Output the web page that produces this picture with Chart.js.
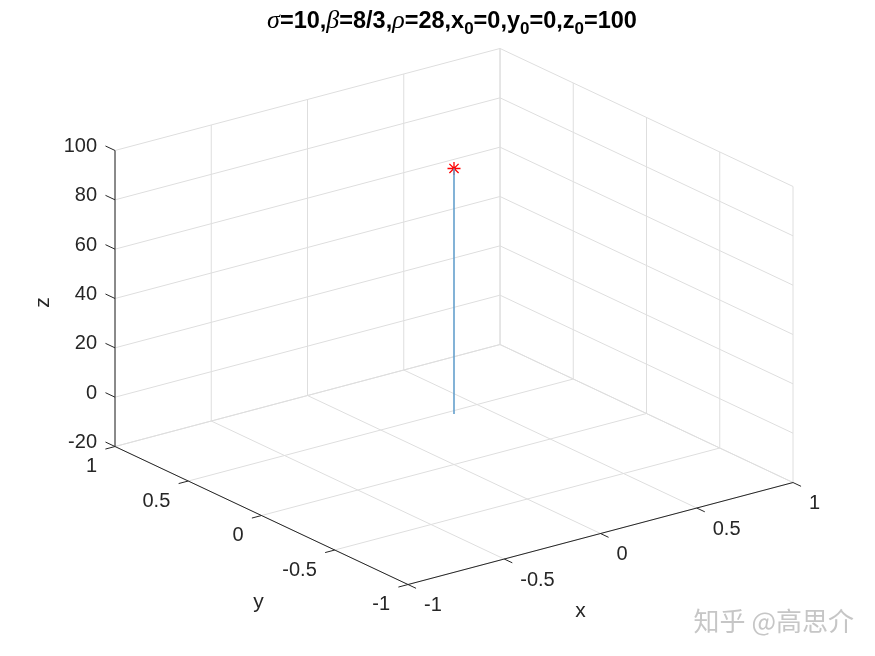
<!DOCTYPE html>
<html>
<head>
<meta charset="utf-8">
<script src="https://cdn.jsdelivr.net/npm/chart.js@4/dist/chart.umd.min.js"></script>
<style>
  html, body { margin: 0; padding: 0; background: #fff; }
  #wrap { width: 875px; height: 656px; }
</style>
</head>
<body>
<div id="wrap"><canvas id="lorenz" width="875" height="656"></canvas></div>
<script>
// axis ticks
const xTicks = [-1, -0.5, 0, 0.5, 1];
const yTicks = [-1, -0.5, 0, 0.5, 1];
const zTicks = [-20, 0, 20, 40, 60, 80, 100];
const xTickLabels = ["-1", "-0.5", "0", "0.5", "1"];
const yTickLabels = ["-1", "-0.5", "0", "0.5", "1"];
const zTickLabels = ["-20", "0", "20", "40", "60", "80", "100"];

// trajectory (x0=0, y0=0 -> x,y stay 0, z decays)
const trajX = [0, 0, 0, 0, 0, 0, 0, 0];
const trajY = [0, 0, 0, 0, 0, 0, 0, 0];
const trajZ = [100, 70, 45, 25, 12, 5, 2, 0.5];

// start point
const startX = [0];
const startY = [0];
const startZ = [100];

const xLim = [-1, 1];
const yLim = [-1, 1];
const zLim = [-20, 100];

// orthographic view of the box (az -37.5, el 30 style), view units
function project(x, y, z) {
  return {
    x: 192.5 * x - 146.5 * y,
    y: 51 * x + 69 * y + 2.467 * (z - 40),
  };
}

const textColor = "rgb(38,38,38)";
const gridColor = "rgb(222,222,222)";
const font = "20px 'Liberation Sans', Arial, sans-serif";

const boxPlugin = {
  id: "box3d",
  beforeDatasetsDraw(chart) {
    const ctx = chart.ctx;
    const sx = chart.scales.x;
    const sy = chart.scales.y;
    const px = (x, y, z) => {
      const p = project(x, y, z);
      return [sx.getPixelForValue(p.x), sy.getPixelForValue(p.y)];
    };
    const seg = (a, b) => {
      const p = px(...a);
      const q = px(...b);
      ctx.moveTo(p[0], p[1]);
      ctx.lineTo(q[0], q[1]);
    };

    ctx.save();
    // grid on the back walls and floor
    ctx.strokeStyle = gridColor;
    ctx.lineWidth = 1;
    ctx.beginPath();
    xTicks.forEach((x) => {
      seg([x, yLim[1], zLim[0]], [x, yLim[1], zLim[1]]);
      seg([x, yLim[0], zLim[0]], [x, yLim[1], zLim[0]]);
    });
    yTicks.forEach((y) => {
      seg([xLim[1], y, zLim[0]], [xLim[1], y, zLim[1]]);
      seg([xLim[0], y, zLim[0]], [xLim[1], y, zLim[0]]);
    });
    zTicks.forEach((z) => {
      seg([xLim[0], yLim[1], z], [xLim[1], yLim[1], z]);
      seg([xLim[1], yLim[0], z], [xLim[1], yLim[1], z]);
    });
    ctx.stroke();

    // axis lines and tick marks
    ctx.strokeStyle = textColor;
    ctx.lineWidth = 1;
    ctx.beginPath();
    seg([xLim[0], yLim[1], zLim[0]], [xLim[0], yLim[1], zLim[1]]);
    seg([xLim[0], yLim[1], zLim[0]], [xLim[0], yLim[0], zLim[0]]);
    seg([xLim[0], yLim[0], zLim[0]], [xLim[1], yLim[0], zLim[0]]);
    zTicks.forEach((z) => seg([xLim[0], yLim[1], z], [xLim[0], yLim[1] + 0.065, z]));
    yTicks.forEach((y) => seg([xLim[0], y, zLim[0]], [xLim[0] - 0.05, y, zLim[0]]));
    xTicks.forEach((x) => seg([x, yLim[0], zLim[0]], [x, yLim[0] - 0.055, zLim[0]]));
    ctx.stroke();

    // tick labels
    ctx.fillStyle = textColor;
    ctx.font = font;
    ctx.textBaseline = "middle";
    ctx.textAlign = "right";
    zTicks.forEach((z, i) => {
      const p = px(xLim[0], yLim[1], z);
      ctx.fillText(zTickLabels[i], p[0] - 18, p[1] - 4);
    });
    yTicks.forEach((y, i) => {
      const p = px(xLim[0], y, zLim[0]);
      ctx.fillText(yTickLabels[i], p[0] - 18, p[1] + 20);
    });
    ctx.textAlign = "left";
    xTicks.forEach((x, i) => {
      const p = px(x, yLim[0], zLim[0]);
      ctx.fillText(xTickLabels[i], p[0] + 16, p[1] + 21);
    });

    // axis labels
    ctx.font = "21px 'Liberation Sans', Arial, sans-serif";
    ctx.textAlign = "center";
    const xl = px(0, yLim[0], zLim[0]);
    ctx.fillText("x", xl[0] - 20, xl[1] + 78);
    const yl = px(xLim[0], 0, zLim[0]);
    ctx.fillText("y", yl[0] - 3, yl[1] + 87);
    const zl = px(xLim[0], yLim[1], 40);
    ctx.save();
    ctx.translate(zl[0] - 72, zl[1] + 4);
    ctx.rotate(-Math.PI / 2);
    ctx.fillText("z", 0, 0);
    ctx.restore();
    ctx.restore();
  },
  afterDraw(chart) {
    const ctx = chart.ctx;
    ctx.save();
    // title with greek letters and subscripts
    const bold = "bold 23.5px 'Liberation Sans', Arial, sans-serif";
    const greek = "italic 26px 'Liberation Serif', 'Times New Roman', serif";
    const sub = "bold 17px 'Liberation Sans', Arial, sans-serif";
    const parts = [
      ["σ", greek, 0], ["=10,", bold, 0],
      ["β", greek, 0], ["=8/3,", bold, 0],
      ["ρ", greek, 0], ["=28,x", bold, 0], ["0", sub, 6],
      ["=0,y", bold, 0], ["0", sub, 6],
      ["=0,z", bold, 0], ["0", sub, 6], ["=100", bold, 0],
    ];
    let total = 0;
    parts.forEach((p) => {
      ctx.font = p[1];
      total += ctx.measureText(p[0]).width;
    });
    let cx = 452 - total / 2;
    ctx.fillStyle = "#000";
    ctx.textBaseline = "alphabetic";
    ctx.textAlign = "left";
    parts.forEach((p) => {
      ctx.font = p[1];
      ctx.fillText(p[0], cx, 28 + p[2]);
      cx += ctx.measureText(p[0]).width;
    });

    // watermark
    ctx.font = "26px 'Noto Sans CJK SC', sans-serif";
    ctx.fillStyle = "rgb(198,198,198)";
    ctx.textAlign = "right";
    ctx.textBaseline = "middle";
    ctx.fillText("知乎 @高思介", 854, 621);
    ctx.restore();
  },
};

const ctx = document.getElementById("lorenz").getContext("2d");
window.lorenzChart = new Chart(ctx, {
  type: "scatter",
  data: {
    datasets: [
      {
        label: "trajectory",
        data: trajZ.map((z, i) => project(trajX[i], trajY[i], z)),
        showLine: true,
        borderColor: "rgb(100,160,205)",
        borderWidth: 1.6,
        pointRadius: 0,
        clip: false,
      },
      {
        label: "start",
        data: startZ.map((z, i) => project(startX[i], startY[i], z)),
        pointStyle: "star",
        pointRadius: 6.5,
        borderColor: "#ff0000",
        backgroundColor: "#ff0000",
        borderWidth: 1.3,
        clip: false,
      },
    ],
  },
  options: {
    responsive: false,
    animation: false,
    events: [],
    layout: { padding: 0, autoPadding: false },
    plugins: {
      legend: { display: false },
      title: { display: false },
      tooltip: { enabled: false },
    },
    scales: {
      x: { type: "linear", display: false, min: -454, max: 421 },
      y: { type: "linear", display: false, min: -339.5, max: 316.5 },
    },
  },
  plugins: [boxPlugin],
});
</script>
</body>
</html>
